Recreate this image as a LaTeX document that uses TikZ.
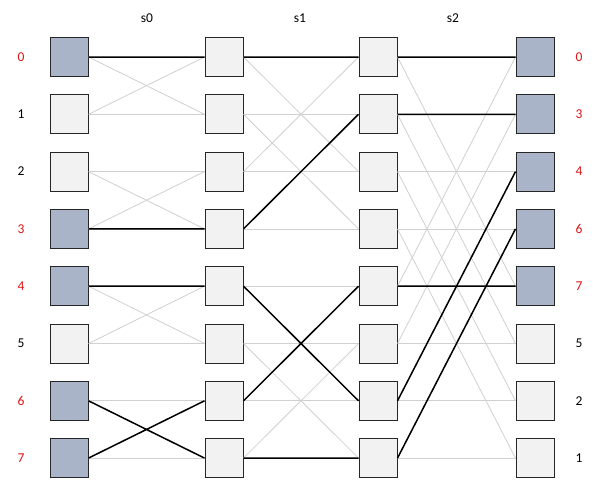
\documentclass[tikz,border=0pt]{standalone}
\usepackage{fontspec}
\setmainfont{Carlito}
\begin{document}
\begin{tikzpicture}[x=1pt,y=-1pt,
 box/.style={draw=black!85,line width=1pt,minimum width=38pt,minimum height=39pt,inner sep=0pt},
 sel/.style={box,fill={rgb,255:red,170;green,180;blue,200}},
 uns/.style={box,fill={rgb,255:red,242;green,242;blue,242}},
 lg/.style={draw={rgb,255:red,208;green,208;blue,208},line width=0.8pt},
 hl/.style={draw=black,line width=1.5pt},
 lab/.style={font=\fontsize{13.5}{15}\selectfont},
 red/.style={text={rgb,255:red,220;green,20;blue,20}}]
\useasboundingbox (0,0) rectangle (600,485);
\def\xa{69}\def\xb{224}\def\xc{378}\def\xd{535}
\foreach \i in {0,...,7}{
  \pgfmathsetmacro\yy{57+57.3*\i}
  \node[uns] (b\i) at (\xb,\yy) {};
  \node[uns] (c\i) at (\xc,\yy) {};
}
\foreach \i in {0,3,4,6,7}{\pgfmathsetmacro\yy{57+57.3*\i}\node[sel] (a\i) at (\xa,\yy) {};}
\foreach \i in {1,2,5}{\pgfmathsetmacro\yy{57+57.3*\i}\node[uns] (a\i) at (\xa,\yy) {};}
\foreach \i in {0,...,4}{\pgfmathsetmacro\yy{57+57.3*\i}\node[sel] (d\i) at (\xd,\yy) {};}
\foreach \i in {5,6,7}{\pgfmathsetmacro\yy{57+57.3*\i}\node[uns] (d\i) at (\xd,\yy) {};}
% light butterfly lines
\foreach \i in {0,...,7}{
  \pgfmathtruncatemacro\p{\i+1-2*mod(\i,2)}
  \pgfmathtruncatemacro\q{\i+2-4*mod(floor(\i/2),2)}
  \pgfmathtruncatemacro\r{\i+4-8*floor(\i/4)}
  \draw[lg] (a\i.east) -- (b\i.west); \draw[lg] (a\i.east) -- (b\p.west);
  \draw[lg] (b\i.east) -- (c\i.west); \draw[lg] (b\i.east) -- (c\q.west);
  \draw[lg] (c\i.east) -- (d\i.west); \draw[lg] (c\i.east) -- (d\r.west);
}
% highlighted paths
\draw[hl] (a0.east)--(b0.west) (a3.east)--(b3.west) (a4.east)--(b4.west) (a6.east)--(b7.west) (a7.east)--(b6.west);
\draw[hl] (b0.east)--(c0.west) (b3.east)--(c1.west) (b4.east)--(c6.west) (b6.east)--(c4.west) (b7.east)--(c7.west);
\draw[hl] (c0.east)--(d0.west) (c1.east)--(d1.west) (c4.east)--(d4.west) (c6.east)--(d2.west) (c7.east)--(d3.west);
% labels
\node[lab] (s0) at (147,18) {s0};
\node[lab] (s1) at (300,18) {s1};
\node[lab] (s2) at (453,18) {s2};
\foreach \i/\c in {0/red,1/,2/,3/red,4/red,5/,6/red,7/red}{
  \pgfmathsetmacro\yy{57+57.3*\i}
  \node[lab,\c] (l\i) at (21,\yy) {\i};
}
\foreach \i/\t/\c in {0/0/red,1/3/red,2/4/red,3/6/red,4/7/red,5/5/,6/2/,7/1/}{
  \pgfmathsetmacro\yy{57+57.3*\i}
  \node[lab,\c] (r\i) at (579,\yy) {\t};
}
\end{tikzpicture}
\end{document}
